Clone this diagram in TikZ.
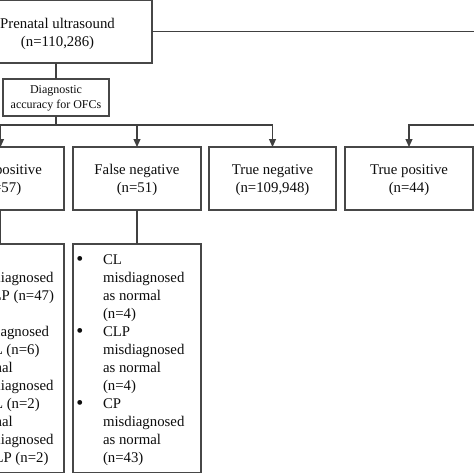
\documentclass[tikz,border=0pt]{standalone}
\usepackage{fontspec}
\setmainfont{Liberation Serif}
\usetikzlibrary{arrows.meta}
\begin{document}
\begin{tikzpicture}[x=1pt,y=-1pt,
  box/.style={draw=black!72, line width=1.1pt, inner sep=0pt, outer sep=0pt},
  txt/.style={inner sep=0pt, outer sep=0pt, align=center, text=black!95,
              font=\fontsize{14.8}{18}\selectfont},
  small/.style={font=\fontsize{12}{14.5}\selectfont},
  bul/.style={inner sep=0pt, outer sep=0pt, text=black!95, font=\fontsize{20}{20}\selectfont},
  conn/.style={draw=black!75, line width=1.1pt},
  arr/.style={conn, -{Triangle[width=7pt,length=8pt]}}]
\useasboundingbox (0,0) rectangle (474,474);
\clip (0,0) rectangle (474,474);
\fill[white] (0,0) rectangle (474,474);

% top
\node[box, minimum width=190pt, minimum height=62.5pt] (top) at (57,31.75) {};
\node[txt, anchor=base] (toptxt) at (57.5,46.5) {Prenatal ultrasound\\(n=110,286)};

% diagnostic accuracy
\node[box, minimum width=106pt, minimum height=37pt] (diag) at (56,97.5) {};
\node[txt, small, anchor=base] (diagtxt) at (56,108.3) {Diagnostic\\accuracy for OFCs};

% second row
\node[box, minimum width=127pt, minimum height=63pt] (fp) at (0.5,178.5) {};
\node[txt, anchor=base] (fptxt) at (1,192) {False positive\\(n=57)};
\node[box, minimum width=128pt, minimum height=63pt] (fn) at (137,178.5) {};
\node[txt, anchor=base] (fntxt) at (137,192) {False negative\\(n=51)};
\node[box, minimum width=127pt, minimum height=63pt] (tn) at (272.5,178.5) {};
\node[txt, anchor=base] (tntxt) at (272.5,192) {True negative\\(n=109,948)};
\node[box, minimum width=128pt, minimum height=63pt] (tp) at (409,178.5) {};
\node[txt, anchor=base] (tptxt) at (409,192) {True positive\\(n=44)};

% third row
\node[box, minimum width=127pt, minimum height=228.5pt] (fpl) at (0.5,358.25) {};
\node[box, minimum width=128pt, minimum height=228.5pt] (fnl) at (137,358.25) {};

% connectors
\coordinate (j) at (56,125);
\coordinate (r1) at (500,31.75);
\coordinate (r2) at (500,125);
\draw[conn] (top.south -| diag.north) -- (diag.north);
\draw[conn] (diag.south) -- (j);
\draw[arr] (j) -| (fp.north);
\draw[arr] (j) -| (fn.north);
\draw[arr] (j) -| (tn.north);
\draw[arr] (top.east) -- (r1) -- (r2) -| (tp.north);
\draw[conn] (fp.south) -- (fpl.north);
\draw[conn] (fn.south) -- (fnl.north);

% false negative list
\node[bul] (bu1) at (80,261) {•};
\node[bul] (bu2) at (80,333) {•};
\node[bul] (bu3) at (80,405) {•};
\node[txt, align=left, anchor=base west] (fnltxt) at (103,462.5)
  {CL\\misdiagnosed\\as normal\\(n=4)\\CLP\\misdiagnosed\\as normal\\(n=4)\\CP\\misdiagnosed\\as normal\\(n=43)};

% false positive list (left part cut off)
\node[txt, anchor=base east] (l2) at (53.5,282.5) {misdiagnosed};
\node[txt, anchor=base east] (l3) at (54,300.5) {as CLP (n=47)};
\node[txt, anchor=base east] (l5) at (49,336.5) {misdiagnosed};
\node[txt, anchor=base east] (l6) at (39.5,354.5) {as CL (n=6)};
\node[txt, anchor=base east] (l7) at (12.8,372.5) {Normal};
\node[txt, anchor=base east] (l8) at (53.5,390.5) {misdiagnosed};
\node[txt, anchor=base east] (l9) at (39.8,408.5) {as CL (n=2)};
\node[txt, anchor=base east] (l10) at (12.8,426.5) {Normal};
\node[txt, anchor=base east] (l11) at (53.5,444.5) {misdiagnosed};
\node[txt, anchor=base east] (l12) at (48.5,462.5) {as CLP (n=2)};
\end{tikzpicture}
\end{document}
